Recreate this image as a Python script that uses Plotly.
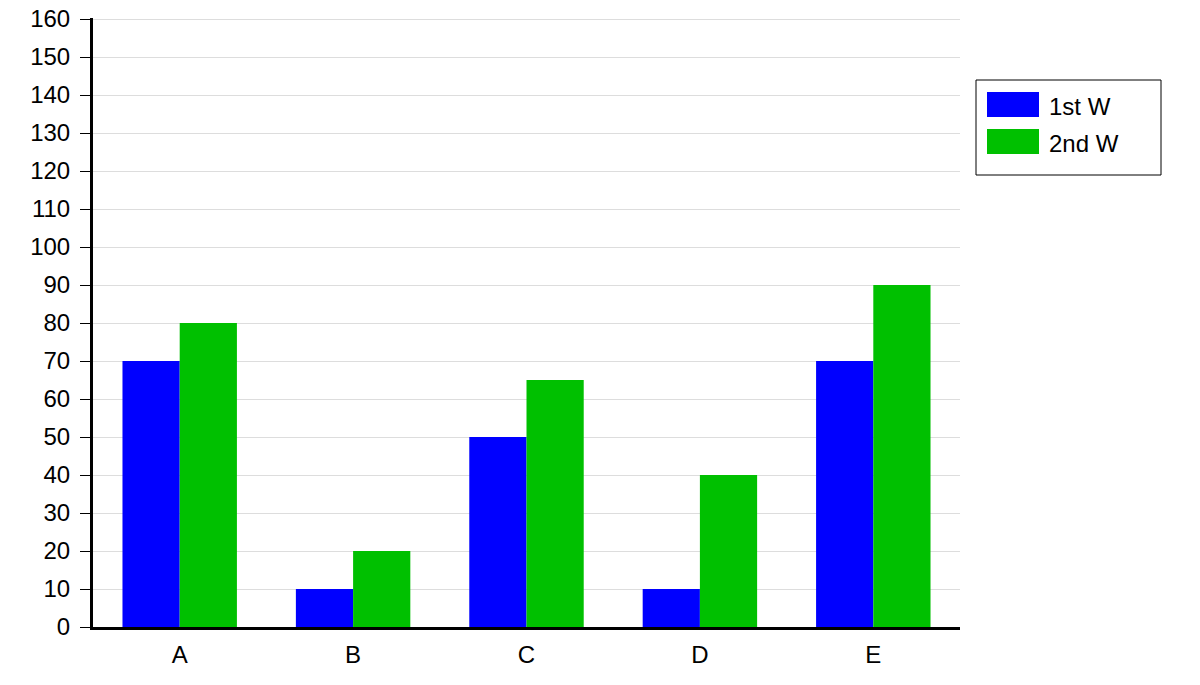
import plotly.graph_objects as go

categories = ["A", "B", "C", "D", "E"]
series_names = ["1st W", "2nd W"]
first_w = [70, 10, 50, 10, 70]
second_w = [80, 20, 65, 40, 90]
colors = ["#0000ff", "#00c000"]
y_ticks = list(range(0, 161, 10))

W, H = 1200, 685
L, R, T, B = 93, 240, 18, 58
pw, ph = W - L - R, H - T - B
X0, Y0 = 93, 627  # plot-area left / bottom in screen pixels
Y_TOP = 160.27

def px_x(p):
    return (p - X0) / pw

def px_y(p):
    return (Y0 - p) / ph

fig = go.Figure()
for name, vals, col in zip(series_names, [first_w, second_w], colors):
    fig.add_trace(go.Bar(x=categories, y=vals, name=name, marker_color=col,
                         marker_line_width=0, showlegend=False))

font = dict(family="Liberation Sans, Arial, sans-serif", size=24, color="black")

fig.update_layout(
    width=W, height=H,
    margin=dict(l=L, r=R, t=T, b=B),
    paper_bgcolor="white", plot_bgcolor="white",
    barmode="group", bargap=0.34, bargroupgap=0,
    font=font,
    xaxis=dict(showline=True, linecolor="black", linewidth=3, showgrid=False,
               ticks="", tickfont=font, automargin=False, ticklabelstandoff=4),
    yaxis=dict(range=[0, Y_TOP], tickvals=y_ticks, showline=True, linecolor="black",
               linewidth=3, showgrid=True, gridcolor="#dddddd", gridwidth=1,
               ticks="outside", ticklen=10, tickcolor="black", tickwidth=1,
               zeroline=False, tickfont=font, automargin=False,
               ticklabelstandoff=5, ticklabeloverflow="allow"),
)

# manual legend
shapes = [dict(type="rect", xref="paper", yref="paper",
               x0=px_x(976), x1=px_x(1161), y0=px_y(175), y1=px_y(80),
               line=dict(color="black", width=1), fillcolor="white")]
for i, (name, col) in enumerate(zip(series_names, colors)):
    top = 92 + i * 37
    shapes.append(dict(type="rect", xref="paper", yref="paper",
                       x0=px_x(987), x1=px_x(1039), y0=px_y(top + 25), y1=px_y(top),
                       line=dict(width=0), fillcolor=col))
    fig.add_annotation(xref="paper", yref="paper", x=px_x(1047), y=px_y(top + 14),
                       text=name, showarrow=False, xanchor="left", yanchor="middle",
                       font=font)
fig.update_layout(shapes=shapes)

fig.write_html("out.html", config={"displayModeBar": False},
               post_script="document.body.style.margin='0px';")
